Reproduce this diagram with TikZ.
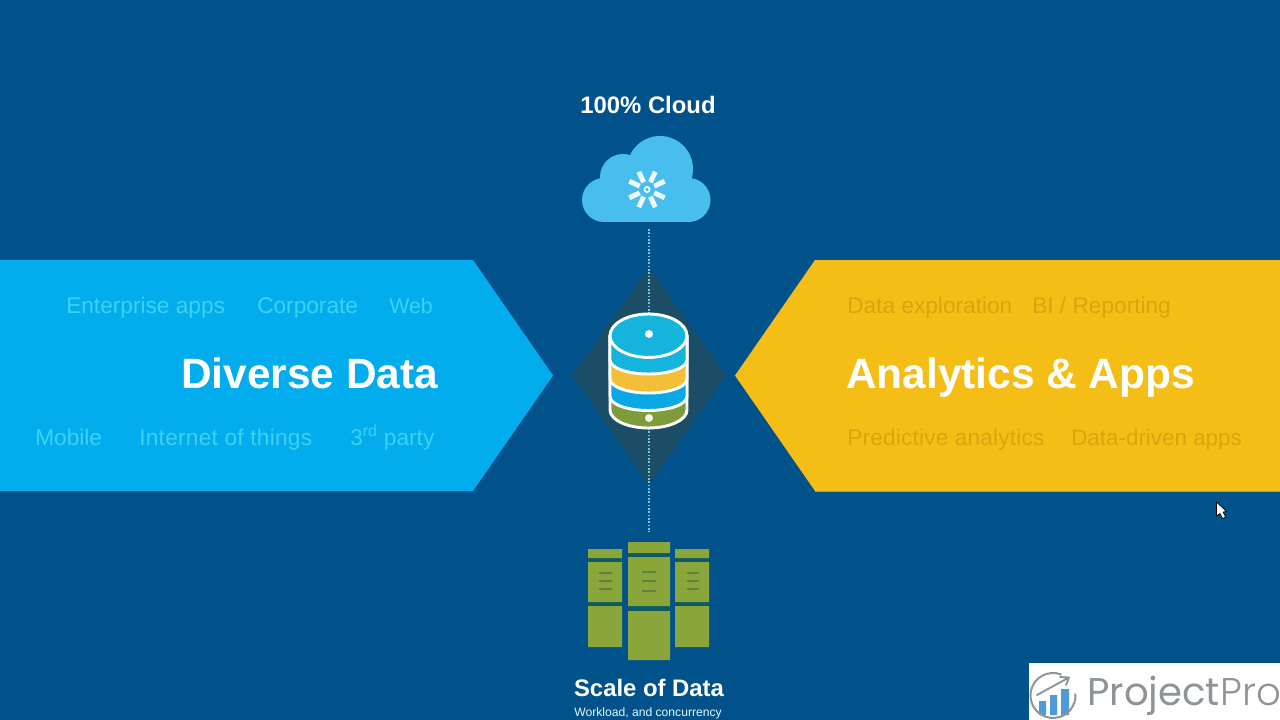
\documentclass[tikz,border=0pt]{standalone}
\usepackage{fontspec}
\usetikzlibrary{calc}
\setmainfont{Liberation Sans}
\newfontfamily\logofont{Poppins}
\newfontfamily\logolight{Poppins Light}
\definecolor{bgblue}{HTML}{01528A}
\definecolor{dia}{HTML}{1B4D66}
\definecolor{arrowblue}{HTML}{03ACEC}
\definecolor{arrowyellow}{HTML}{F5BE16}
\definecolor{subblue}{HTML}{3CD2F4}
\definecolor{subyellow}{HTML}{DBA40E}
\definecolor{cloudblue}{HTML}{48BEEE}
\definecolor{dbcyan}{HTML}{14B4DC}
\definecolor{dbyellow}{HTML}{F3BE38}
\definecolor{dbblue}{HTML}{0BA8E6}
\definecolor{olive}{HTML}{7F9C3A}
\definecolor{rack}{HTML}{8AA63B}
\definecolor{rackdark}{HTML}{0C5A62}
\definecolor{rackline}{HTML}{5E8240}
\definecolor{dotted}{HTML}{6FCBE8}
\definecolor{logogray}{HTML}{8F9498}
\definecolor{logoblue}{HTML}{4F9BD8}
\tikzset{
  x=0.75pt,y=-0.75pt,
  sub/.style={anchor=base west,inner sep=0pt,font=\fontsize{17}{20}\selectfont},
  subL/.style={sub,text=subblue},
  subR/.style={sub,text=subyellow},
  bigtitle/.style={anchor=base west,inner sep=0pt,text=white,font=\fontsize{31.8}{36}\selectfont\bfseries},
  midtitle/.style={anchor=base,inner sep=0pt,text=white,font=\fontsize{17.9}{20}\selectfont\bfseries},
  dotline/.style={draw=dotted,line width=1.4pt,dash pattern=on 1.2pt off 1.3pt},
  dbband/.style={draw=white,line width=2.2pt,line join=round},
  rackbox/.style={fill=rack},
  rackgap/.style={fill=rackdark},
  racktick/.style={draw=rackline,line width=1.5pt},
  flake/.style={draw=white!92!cloudblue,line width=3.7pt,line cap=butt},
}
\newcommand{\dbshape}[3]{%
  \path[dbband,fill=#1] (610,335.7) -- (610,#2-#3) arc[start angle=180,end angle=0,x radius=38.5,y radius=#3] -- (687,335.7) -- cycle;}
\begin{document}
\begin{tikzpicture}
\useasboundingbox (0,0) rectangle (1280,720);
\fill[bgblue] (0,0) rectangle (1280,720);

% arrows
\fill[arrowblue] (0,260) -- (473,260) -- (553,375.5) -- (473,491) -- (0,491) -- cycle;
\fill[arrowyellow] (1280,260) -- (815,260) -- (735,375.5) -- (815,491) -- (1280,491) -- cycle;
\draw[olive!70!arrowyellow,line width=0.6pt] (815,491) -- (1280,491);

% diamond
\fill[dia] (649,268) -- (726,375) -- (649,485) -- (572,375) -- cycle;

% anchor points of the connectors
\coordinate (cloudbot) at (649,229);
\coordinate (dbtop) at (649,315);
\coordinate (dbbot) at (649,428);
\coordinate (rackstop) at (649,532);
\draw[dotline] (cloudbot) -- (dbtop);
\draw[dotline] (dbbot) -- (rackstop);

% cloud
\fill[cloudblue] (604,200) circle[radius=22];
\fill[cloudblue] (623,177) circle[radius=23];
\fill[cloudblue] (660,169) circle[radius=33];
\fill[cloudblue] (688.5,200) circle[radius=22];
\fill[cloudblue] (604,185) rectangle (688.5,222);
\coordinate (flakec) at (647,189.5);
\foreach \a in {25,65,115,155,205,245,295,335}{
  \draw[flake] ($(flakec)+(\a:8)$) -- ($(flakec)+(\a:19.5)$);}
\draw[white,line width=1.2pt] (flakec) circle[radius=2.6];

% database
\dbshape{olive}{428}{18}
\dbshape{dbblue}{410.5}{14}
\dbshape{dbyellow}{393}{14}
\dbshape{dbcyan}{374}{14}
\path[dbband,fill=dbcyan] (648.5,335.7) ellipse[x radius=38.5,y radius=21.7];
\fill[white] (649,334) circle[radius=4];
\fill[white!90!olive] (649,418) circle[radius=4];

% racks
\fill[rackgap] (588,558) rectangle (622,562) (588,602) rectangle (622,606);
\fill[rackgap] (628,553) rectangle (670,557) (628,606) rectangle (670,611);
\fill[rackgap] (675,558) rectangle (709,562) (675,602) rectangle (709,606);
\fill[rackbox] (588,549) rectangle (622,558) (588,562) rectangle (622,602) (588,606) rectangle (622,647);
\fill[rackbox] (628,542) rectangle (670,553) (628,557) rectangle (670,606) (628,611) rectangle (670,660);
\fill[rackbox] (675,549) rectangle (709,558) (675,562) rectangle (709,602) (675,606) rectangle (709,647);
\foreach \y in {573,581,589}{\draw[racktick] (599,\y) -- (612,\y); \draw[racktick] (687,\y) -- (699,\y);}
\foreach \y in {572,581,591}{\draw[racktick] (642,\y) -- (656,\y);}

% texts
\node[midtitle] (cloudlabel) at (648,114) {100\% Cloud};
\node[midtitle] (scalelabel) at (649,696) {Scale of Data};
\node[anchor=base,inner sep=0pt,text=white!85!subblue,font=\fontsize{9.1}{11}\selectfont] (worklabel) at (648,716) {Workload, and concurrency};

\node[subL] (t1) at (66,313) {Enterprise apps};
\node[subL] (t2) at (257,313) {Corporate};
\node[subL,font=\fontsize{16}{20}\selectfont] (t3) at (389,313) {Web};
\node[bigtitle] (t4) at (181,388) {Diverse Data};
\node[subL] (t5) at (35,445) {Mobile};
\node[subL,font=\fontsize{17}{20}\selectfont\addfontfeature{LetterSpace=1.2}] (t6) at (139,445) {Internet of things};
\node[subL] (t7) at (350,445) {3\textsuperscript{rd} party};

\node[subR] (r1) at (847,313) {Data exploration};
\node[subR] (r2) at (1032,313) {BI / Reporting};
\node[bigtitle] (r3) at (846,388) {Analytics \& Apps};
\node[subR,font=\fontsize{17}{20}\selectfont\addfontfeature{LetterSpace=0.8}] (r4) at (847,445) {Predictive analytics};
\node[subR,font=\fontsize{16.8}{20}\selectfont] (r5) at (1071,445) {Data-driven apps};

% cursor
\path[fill=white,draw=black,line width=0.5pt,line join=round] (1216.5,502) -- (1216.5,516) -- (1220,513.5) -- (1222.5,518.5) -- (1225.5,517) -- (1223,512) -- (1226.5,511.5) -- cycle;

% watermark
\fill[white] (1029,663) rectangle (1280,720);
\fill[logoblue] (1039,701) rectangle (1046,715) (1050,695) rectangle (1057,715) (1061,689) rectangle (1069,715);
\draw[logogray,line width=1.5pt] (1075.4,693.5) arc[start angle=-5,end angle=292,radius=22.5];
\draw[logogray,line width=1.4pt,line cap=round,line join=round] (1037,695) -- (1068,678) (1060,677) -- (1069,677.5) -- (1066,685);
\node[anchor=base west,inner sep=0pt,text=logogray,font=\logofont\fontsize{29}{32}\selectfont] (logo1) at (1087,705) {Project};
\node[anchor=base west,inner sep=0pt,text=logogray,font=\logolight\fontsize{29}{32}\selectfont] (logo2) at (logo1.base east) {Pro};
\end{tikzpicture}
\end{document}
